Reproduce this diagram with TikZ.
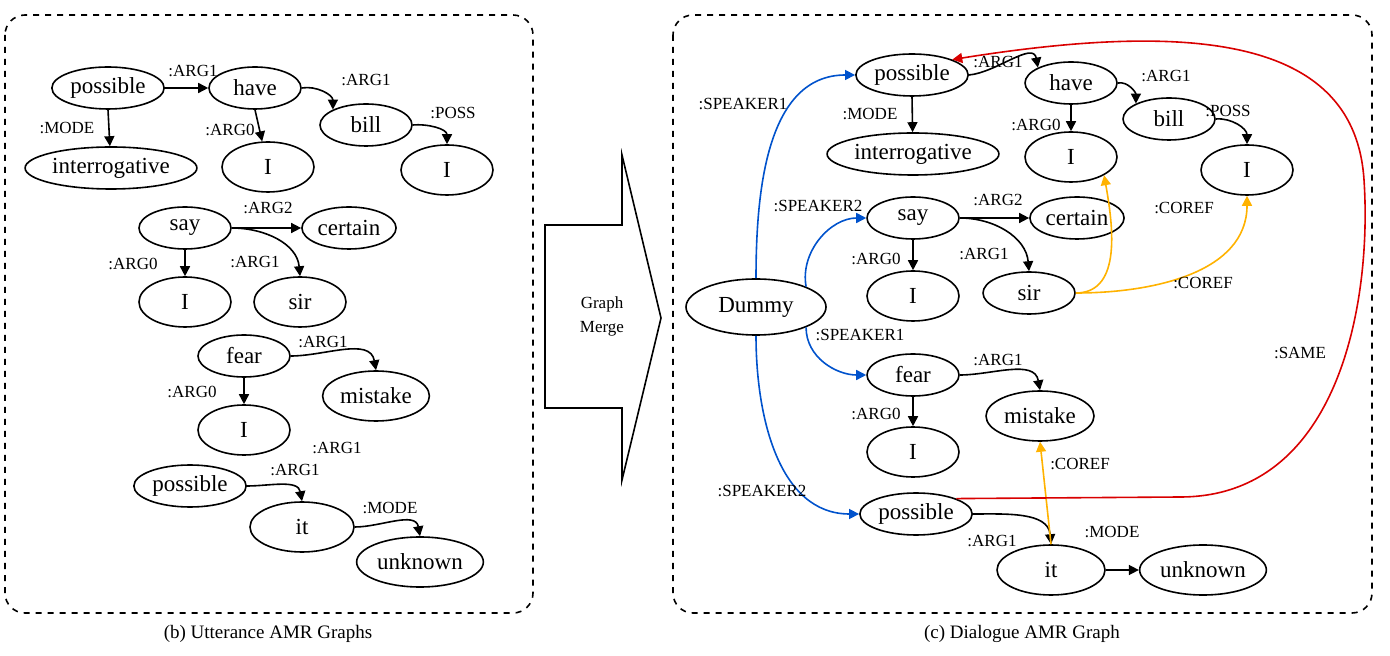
\documentclass[tikz,border=0pt]{standalone}
\usepackage{fontspec}
\setmainfont{Liberation Serif}
\usetikzlibrary{arrows.meta,positioning,shapes.geometric}

\tikzset{
  amr/.style={ellipse, draw, thick, inner sep=1pt, minimum height=21pt, font=\fontsize{11.5}{13}\selectfont},
  lab/.style={font=\fontsize{8.5}{10}\selectfont},
  edge/.style={-{Triangle[length=5pt,width=5pt]}, thick},
  spk/.style={edge, color=blue!60!cyan!80!black},
  coref/.style={edge, color=orange!60!yellow},
  panel/.style={draw, thick, dashed, rounded corners=10pt}
}

\begin{document}
\begin{tikzpicture}[x=0.5pt, y=-0.5pt]
        \useasboundingbox (0,0) rectangle (1390,656);

        % Panels
        \draw[panel] (5,15) rectangle (533,613);
        \draw[panel] (673,15) rectangle (1372,613);
        \node at (268,634) {\fontsize{9.5}{11}\selectfont (b) Utterance AMR Graphs};
        \node at (1022,634) {\fontsize{9.5}{11}\selectfont (c) Dialogue AMR Graph};

        % Merge arrow
        \draw[thick] (545,225) -- (622,225) -- (622,155) -- (661,318) -- (622,480) -- (622,408) -- (545,408) -- cycle;
        \node[align=center, font=\fontsize{8.5}{12}\selectfont] at (602,316) {Graph\\Merge};

        % Utterance graphs
        \node[amr, minimum width=50pt] (bpos) at (108,88) {possible};
        \node[amr, minimum width=46pt] (bhave) at (255,88) {have};
        \node[amr, minimum width=46pt] (bbill) at (366,125) {bill};
        \node[amr, minimum width=46pt, minimum height=25pt] (bi1) at (447,170) {I};
        \node[amr, minimum width=76pt] (bint) at (111,168) {interrogative};
        \node[amr, minimum width=46pt, minimum height=25pt] (bi2) at (268,167) {I};
        \node[amr, minimum width=46pt] (bsay) at (185,228) {say};
        \node[amr, minimum width=46pt] (bcert) at (349,228) {certain};
        \node[amr, minimum width=46pt, minimum height=25pt] (bi3) at (185,302) {I};
        \node[amr, minimum width=46pt, minimum height=25pt] (bsir) at (300,302) {sir};
        \node[amr, minimum width=46pt] (bfear) at (244,356) {fear};
        \node[amr, minimum width=50pt, minimum height=25pt] (bmis) at (376,396) {mistake};
        \node[amr, minimum width=46pt, minimum height=25pt] (bi4) at (244,430) {I};
        \node[amr, minimum width=50pt] (bpos2) at (190,486) {possible};
        \node[amr, minimum width=52pt, minimum height=25pt] (bit) at (302,527) {it};
        \node[amr, minimum width=50pt, minimum height=25pt] (bunk) at (420,562) {unknown};

        \draw[edge] (bpos) -- (bhave);
        \draw[edge] (bpos.south) -- (bint);
        \draw[edge] (bhave.south) -- (bi2);
        \draw[edge] (bhave.east) to[out=10, in=90] (bbill.north west);
        \draw[edge] (bbill.east) to[out=5, in=90] (bi1.north);
        \draw[edge] (bsay) -- (bcert);
        \draw[edge] (bsay.south) -- (bi3);
        \draw[edge] (bsay.east) to[out=0, in=95] (bsir.north);
        \draw[edge] (bfear.south) -- (bi4);
        \draw[edge] (bfear.east) to[out=0, in=100] (bmis.north);
        \draw[edge] (bpos2.east) to[out=0, in=100] (bit.north);
        \draw[edge] (bit.east) to[out=0, in=100] (bunk.north);

        \node[lab] at (193,71) {:ARG1};
        \node[lab] at (67,128) {:MODE};
        \node[lab] at (366,80) {:ARG1};
        \node[lab] at (230,130) {:ARG0};
        \node[lab] at (453,113) {:POSS};
        \node[lab] at (268,208) {:ARG2};
        \node[lab] at (133,264) {:ARG0};
        \node[lab] at (255,262) {:ARG1};
        \node[lab] at (323,342) {:ARG1};
        \node[lab] at (192,392) {:ARG0};
        \node[lab] at (337,448) {:ARG1};
        \node[lab] at (295,470) {:ARG1};
        \node[lab] at (390,508) {:MODE};

        % Dialogue graph
        \node[amr, minimum width=50pt] (dpos) at (912,75) {possible};
        \node[amr, minimum width=46pt] (dhave) at (1071,83) {have};
        \node[amr, minimum width=46pt] (dbill) at (1169,119) {bill};
        \node[amr, minimum width=46pt, minimum height=25pt] (di1) at (1071,157) {I};
        \node[amr, minimum width=46pt, minimum height=25pt] (di2) at (1247,170) {I};
        \node[amr, minimum width=76pt] (dint) at (913,154) {interrogative};
        \node[amr, minimum width=46pt] (dsay) at (913,218) {say};
        \node[amr, minimum width=46pt] (dcert) at (1077,218) {certain};
        \node[amr, minimum width=70pt, minimum height=28pt] (dummy) at (756,307) {Dummy};
        \node[amr, minimum width=46pt, minimum height=25pt] (di3) at (913,296) {I};
        \node[amr, minimum width=46pt] (dsir) at (1029,293) {sir};
        \node[amr, minimum width=46pt] (dfear) at (913,375) {fear};
        \node[amr, minimum width=54pt, minimum height=25pt] (dmis) at (1040,416) {mistake};
        \node[amr, minimum width=46pt, minimum height=25pt] (di4) at (913,452) {I};
        \node[amr, minimum width=46pt] (dpos2) at (916,514) {possible};
        \node[amr, minimum width=54pt, minimum height=25pt] (dit) at (1051,570) {it};
        \node[amr, minimum width=54pt, minimum height=25pt] (dunk) at (1203,570) {unknown};

        \draw[edge] (dpos.east) to[out=5, in=100] (dhave.north west);
        \draw[edge] (dpos.south) -- (dint);
        \draw[edge] (dhave.south) -- (di1);
        \draw[edge] (dhave.east) to[out=10, in=90] (dbill.north west);
        \draw[edge] (dbill.east) to[out=5, in=90] (di2.north);
        \draw[edge] (dsay) -- (dcert);
        \draw[edge] (dsay.south) -- (di3);
        \draw[edge] (dsay.east) to[out=0, in=95] (dsir.north);
        \draw[edge] (dfear.south) -- (di4);
        \draw[edge] (dfear.east) to[out=0, in=100] (dmis.north);
        \draw[edge] (dpos2.east) to[out=0, in=95] (dit.north);
        \draw[edge] (dit) -- (dunk);

        \draw[spk] (dummy.north) to[out=90, in=180] (dpos.west);
        \draw[spk] (dummy.north east) to[out=100, in=180] (dsay.west);
        \draw[spk] (dummy.south east) to[out=-90, in=180] (dfear.west);
        \draw[spk] (dummy.south) to[out=-90, in=180] (dpos2.west);
        \draw[coref] (dsir.east) to[out=0, in=-80] (di1.south east);
        \draw[coref] (dsir.east) to[out=0, in=-90] (di2.south);
        \draw[coref] (dit.north) -- (dmis.south);
        \coordinate (sameturn) at (1180,497);
        \draw[edge, red!85!black] (dpos2.north east) -- (sameturn)
            .. controls (1340,497) and (1372,300) .. (1364,180)
            .. controls (1355,40) and (1200,20) .. (dpos.north east);

        \node[lab] at (998,62) {:ARG1};
        \node[lab] at (1166,76) {:ARG1};
        \node[lab] at (870,114) {:MODE};
        \node[lab] at (1036,125) {:ARG0};
        \node[lab] at (1228,111) {:POSS};
        \node[lab] at (743,104) {:SPEAKER1};
        \node[lab] at (818,206) {:SPEAKER2};
        \node[lab] at (998,200) {:ARG2};
        \node[lab] at (1184,208) {:COREF};
        \node[lab] at (876,259) {:ARG0};
        \node[lab] at (984,254) {:ARG1};
        \node[lab] at (1203,283) {:COREF};
        \node[lab] at (860,335) {:SPEAKER1};
        \node[lab] at (998,360) {:ARG1};
        \node[lab] at (1300,353) {:SAME};
        \node[lab] at (876,414) {:ARG0};
        \node[lab] at (1080,464) {:COREF};
        \node[lab] at (762,491) {:SPEAKER2};
        \node[lab] at (1112,532) {:MODE};
        \node[lab] at (992,541) {:ARG1};
\end{tikzpicture}
\end{document}
